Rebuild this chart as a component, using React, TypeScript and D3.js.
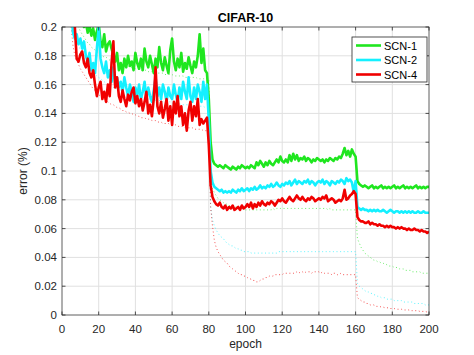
import React from "react";
import * as d3 from "d3";

const epochs: number[] = Array.from({ length: 200 }, (_, i) => i + 1);

const scn1Test: number[] = [
  0.36, 0.32, 0.29, 0.27, 0.255, 0.24, 0.228, 0.218, 0.212, 0.207,
  0.204, 0.2, 0.203, 0.196, 0.201, 0.194, 0.199, 0.191, 0.197, 0.202,
  0.19, 0.186, 0.195, 0.183, 0.188, 0.19, 0.185, 0.18, 0.176, 0.182,
  0.17, 0.175, 0.168, 0.178, 0.172, 0.18, 0.173, 0.176, 0.17, 0.182,
  0.175, 0.171, 0.178, 0.17, 0.185, 0.176, 0.172, 0.18, 0.174, 0.168,
  0.178, 0.172, 0.186, 0.175, 0.17, 0.179, 0.173, 0.168, 0.184, 0.192,
  0.176, 0.17, 0.178, 0.172, 0.182, 0.169, 0.175, 0.171, 0.179, 0.173,
  0.168, 0.176, 0.172, 0.18, 0.195, 0.175, 0.185, 0.17, 0.168, 0.15,
  0.12, 0.108, 0.105, 0.104, 0.103, 0.104, 0.103, 0.102, 0.104, 0.103,
  0.102, 0.101, 0.103, 0.102, 0.101, 0.103, 0.102, 0.104, 0.103, 0.102,
  0.103, 0.102, 0.104, 0.103, 0.102, 0.106, 0.104, 0.107, 0.105, 0.103,
  0.106, 0.104, 0.107, 0.105, 0.104, 0.106, 0.108, 0.106, 0.11, 0.107,
  0.106, 0.108, 0.106, 0.111, 0.107, 0.112, 0.108, 0.111, 0.107, 0.109,
  0.108, 0.11, 0.107, 0.109, 0.108, 0.106, 0.108, 0.107, 0.109, 0.108,
  0.107, 0.108, 0.106, 0.108, 0.107, 0.109, 0.108, 0.107, 0.109, 0.108,
  0.11, 0.109, 0.112, 0.116, 0.111, 0.114, 0.11, 0.115, 0.112, 0.11,
  0.093, 0.091, 0.09, 0.089, 0.09, 0.089, 0.088, 0.089, 0.09, 0.088,
  0.089, 0.088, 0.089, 0.09, 0.088, 0.089, 0.088, 0.089, 0.088, 0.089,
  0.09, 0.088, 0.089, 0.088, 0.089, 0.09, 0.088, 0.089, 0.088, 0.089,
  0.088, 0.089, 0.09, 0.088, 0.089, 0.088, 0.089, 0.088, 0.089, 0.089,
];

const scn2Test: number[] = [
  0.34, 0.29, 0.26, 0.235, 0.212, 0.196, 0.192, 0.195, 0.188, 0.192,
  0.185, 0.19, 0.18, 0.176, 0.182, 0.17, 0.175, 0.168, 0.185, 0.2,
  0.178, 0.172, 0.168, 0.176, 0.165, 0.17, 0.162, 0.172, 0.16, 0.165,
  0.158, 0.162, 0.155, 0.165, 0.158, 0.152, 0.16, 0.155, 0.148, 0.158,
  0.152, 0.16, 0.15, 0.155, 0.162, 0.15, 0.158, 0.152, 0.148, 0.156,
  0.165, 0.152, 0.158, 0.15, 0.16, 0.155, 0.148, 0.158, 0.152, 0.15,
  0.16, 0.153, 0.148, 0.158, 0.15, 0.162, 0.155, 0.15, 0.165, 0.152,
  0.148, 0.158, 0.15, 0.16, 0.155, 0.148, 0.162, 0.15, 0.16, 0.135,
  0.1, 0.092, 0.089, 0.088, 0.087, 0.086, 0.087, 0.085, 0.086, 0.085,
  0.086, 0.085, 0.087, 0.086, 0.085, 0.087, 0.086, 0.088, 0.086, 0.087,
  0.088, 0.086, 0.088, 0.087, 0.089, 0.087, 0.088, 0.09, 0.088, 0.089,
  0.088, 0.09, 0.089, 0.091, 0.089, 0.09, 0.092, 0.09, 0.089, 0.091,
  0.09, 0.092, 0.091, 0.093, 0.09, 0.092, 0.094, 0.091, 0.093, 0.092,
  0.091, 0.093, 0.092, 0.094, 0.091, 0.093, 0.092, 0.09, 0.092, 0.093,
  0.092, 0.094, 0.091, 0.093, 0.092, 0.09, 0.093, 0.092, 0.091, 0.093,
  0.092, 0.094, 0.093, 0.091, 0.095, 0.093, 0.094, 0.092, 0.085, 0.093,
  0.075, 0.074, 0.073, 0.074, 0.073, 0.073, 0.072, 0.073, 0.072, 0.073,
  0.072, 0.073, 0.072, 0.072, 0.073, 0.072, 0.071, 0.072, 0.073, 0.072,
  0.071, 0.072, 0.072, 0.071, 0.072, 0.071, 0.072, 0.071, 0.072, 0.071,
  0.072, 0.071, 0.071, 0.072, 0.071, 0.071, 0.072, 0.071, 0.071, 0.071,
];

const scn4Test: number[] = [
  0.38, 0.33, 0.29, 0.26, 0.24, 0.222, 0.2, 0.178, 0.176, 0.181,
  0.183, 0.175, 0.172, 0.178, 0.168, 0.165, 0.17, 0.16, 0.152, 0.158,
  0.162, 0.15, 0.155, 0.148, 0.16, 0.152, 0.175, 0.19, 0.158, 0.165,
  0.152, 0.148, 0.156, 0.15, 0.145, 0.153, 0.149, 0.155, 0.158, 0.147,
  0.152, 0.145, 0.15, 0.142, 0.148, 0.155, 0.14, 0.146, 0.138, 0.15,
  0.172, 0.145, 0.14, 0.148, 0.137, 0.143, 0.15, 0.135, 0.145, 0.132,
  0.148, 0.14, 0.152, 0.138, 0.145, 0.132, 0.14, 0.128, 0.142, 0.148,
  0.135, 0.145, 0.138, 0.15, 0.132, 0.136, 0.133, 0.135, 0.137, 0.118,
  0.09, 0.082, 0.079, 0.077, 0.076, 0.078, 0.075, 0.074, 0.076, 0.073,
  0.075, 0.074, 0.076, 0.073, 0.074, 0.075, 0.073, 0.076, 0.074, 0.075,
  0.077, 0.075, 0.078, 0.074, 0.077, 0.075, 0.078, 0.076, 0.079, 0.077,
  0.076, 0.078, 0.077, 0.079, 0.078, 0.076, 0.078, 0.08, 0.079, 0.081,
  0.079, 0.078, 0.08, 0.082, 0.08, 0.079, 0.081, 0.083, 0.081, 0.08,
  0.082, 0.08, 0.079, 0.081, 0.08, 0.082, 0.081, 0.079, 0.08, 0.081,
  0.08, 0.082, 0.081, 0.083, 0.079, 0.08, 0.081, 0.08, 0.078, 0.079,
  0.08, 0.079, 0.081, 0.087, 0.08, 0.081, 0.083, 0.084, 0.086, 0.084,
  0.068, 0.066, 0.065, 0.065, 0.064, 0.064, 0.065, 0.063, 0.064, 0.063,
  0.063, 0.062, 0.063, 0.062, 0.062, 0.061, 0.062, 0.061, 0.062, 0.061,
  0.061, 0.06, 0.061, 0.06, 0.061, 0.06, 0.06, 0.059, 0.06, 0.059,
  0.059, 0.06, 0.059, 0.059, 0.058, 0.059, 0.058, 0.058, 0.057, 0.058,
];

const scn1Train: number[] = [
  0.34, 0.3, 0.27, 0.25, 0.235, 0.222, 0.212, 0.205, 0.2, 0.197,
  0.195, 0.193, 0.191, 0.189, 0.188, 0.186, 0.185, 0.184, 0.183, 0.182,
  0.181, 0.18, 0.179, 0.179, 0.178, 0.177, 0.177, 0.176, 0.176, 0.175,
  0.175, 0.174, 0.174, 0.173, 0.173, 0.173, 0.172, 0.172, 0.172, 0.171,
  0.171, 0.171, 0.17, 0.17, 0.17, 0.17, 0.169, 0.169, 0.169, 0.169,
  0.168, 0.168, 0.168, 0.168, 0.168, 0.167, 0.167, 0.167, 0.167, 0.167,
  0.166, 0.166, 0.166, 0.166, 0.166, 0.166, 0.165, 0.165, 0.165, 0.165,
  0.165, 0.165, 0.165, 0.164, 0.164, 0.164, 0.164, 0.164, 0.164, 0.164,
  0.092, 0.088, 0.085, 0.083, 0.081, 0.08, 0.079, 0.078, 0.077, 0.077,
  0.076, 0.076, 0.075, 0.075, 0.075, 0.074, 0.074, 0.074, 0.074, 0.073,
  0.073, 0.073, 0.073, 0.073, 0.073, 0.073, 0.073, 0.073, 0.073, 0.073,
  0.073, 0.073, 0.073, 0.073, 0.074, 0.073, 0.074, 0.074, 0.074, 0.074,
  0.074, 0.074, 0.074, 0.074, 0.074, 0.074, 0.074, 0.074, 0.074, 0.074,
  0.074, 0.074, 0.074, 0.074, 0.074, 0.074, 0.074, 0.074, 0.074, 0.074,
  0.074, 0.074, 0.074, 0.074, 0.073, 0.074, 0.073, 0.073, 0.073, 0.073,
  0.073, 0.073, 0.073, 0.073, 0.073, 0.073, 0.073, 0.073, 0.073, 0.073,
  0.053, 0.05, 0.047, 0.045, 0.043, 0.042, 0.041, 0.04, 0.039, 0.038,
  0.038, 0.037, 0.037, 0.036, 0.036, 0.035, 0.035, 0.034, 0.034, 0.034,
  0.033, 0.033, 0.033, 0.032, 0.032, 0.032, 0.031, 0.031, 0.031, 0.031,
  0.03, 0.03, 0.03, 0.03, 0.03, 0.029, 0.029, 0.029, 0.029, 0.029,
];

const scn2Train: number[] = [
  0.33, 0.29, 0.26, 0.24, 0.222, 0.21, 0.2, 0.193, 0.188, 0.184,
  0.18, 0.178, 0.176, 0.174, 0.172, 0.17, 0.169, 0.167, 0.166, 0.165,
  0.164, 0.163, 0.162, 0.161, 0.16, 0.16, 0.159, 0.158, 0.158, 0.157,
  0.157, 0.156, 0.156, 0.155, 0.155, 0.154, 0.154, 0.153, 0.153, 0.153,
  0.152, 0.152, 0.152, 0.151, 0.151, 0.151, 0.15, 0.15, 0.15, 0.15,
  0.149, 0.149, 0.149, 0.149, 0.148, 0.148, 0.148, 0.148, 0.148, 0.147,
  0.147, 0.147, 0.147, 0.147, 0.146, 0.146, 0.146, 0.146, 0.146, 0.146,
  0.145, 0.145, 0.145, 0.145, 0.145, 0.145, 0.145, 0.144, 0.144, 0.144,
  0.075, 0.066, 0.062, 0.059, 0.057, 0.055, 0.054, 0.053, 0.051, 0.05,
  0.049, 0.048, 0.048, 0.047, 0.046, 0.046, 0.045, 0.045, 0.044, 0.044,
  0.044, 0.044, 0.043, 0.043, 0.043, 0.043, 0.043, 0.043, 0.043, 0.043,
  0.043, 0.043, 0.043, 0.043, 0.043, 0.043, 0.043, 0.044, 0.044, 0.044,
  0.044, 0.044, 0.044, 0.044, 0.044, 0.044, 0.044, 0.044, 0.044, 0.044,
  0.044, 0.044, 0.044, 0.044, 0.044, 0.044, 0.044, 0.044, 0.044, 0.044,
  0.044, 0.044, 0.044, 0.044, 0.044, 0.044, 0.044, 0.044, 0.044, 0.044,
  0.044, 0.044, 0.044, 0.044, 0.044, 0.044, 0.044, 0.044, 0.044, 0.044,
  0.022, 0.02, 0.019, 0.018, 0.017, 0.016, 0.016, 0.015, 0.015, 0.014,
  0.014, 0.013, 0.013, 0.012, 0.012, 0.012, 0.011, 0.011, 0.011, 0.011,
  0.01, 0.01, 0.01, 0.01, 0.01, 0.009, 0.009, 0.009, 0.009, 0.009,
  0.009, 0.008, 0.008, 0.008, 0.008, 0.008, 0.008, 0.007, 0.007, 0.007,
];

const scn4Train: number[] = [
  0.32, 0.28, 0.25, 0.225, 0.2, 0.187, 0.18, 0.177, 0.174, 0.171,
  0.169, 0.167, 0.165, 0.163, 0.161, 0.159, 0.157, 0.156, 0.154, 0.153,
  0.152, 0.151, 0.15, 0.149, 0.148, 0.147, 0.146, 0.146, 0.145, 0.144,
  0.144, 0.143, 0.142, 0.142, 0.141, 0.141, 0.14, 0.14, 0.139, 0.139,
  0.138, 0.138, 0.137, 0.137, 0.137, 0.136, 0.136, 0.136, 0.135, 0.135,
  0.135, 0.134, 0.134, 0.134, 0.133, 0.133, 0.133, 0.133, 0.132, 0.132,
  0.132, 0.132, 0.131, 0.131, 0.131, 0.131, 0.13, 0.13, 0.13, 0.13,
  0.13, 0.129, 0.129, 0.129, 0.129, 0.129, 0.128, 0.128, 0.128, 0.128,
  0.075, 0.062, 0.052, 0.047, 0.044, 0.042, 0.04, 0.038, 0.037, 0.036,
  0.034, 0.033, 0.032, 0.031, 0.03, 0.029, 0.028, 0.028, 0.027, 0.027,
  0.026, 0.025, 0.025, 0.024, 0.024, 0.023, 0.023, 0.024, 0.025, 0.025,
  0.026, 0.026, 0.027, 0.027, 0.027, 0.028, 0.028, 0.028, 0.028, 0.028,
  0.029, 0.029, 0.029, 0.029, 0.029, 0.029, 0.029, 0.03, 0.029, 0.03,
  0.03, 0.029, 0.03, 0.03, 0.03, 0.029, 0.03, 0.03, 0.03, 0.03,
  0.029, 0.03, 0.029, 0.029, 0.029, 0.029, 0.028, 0.029, 0.029, 0.028,
  0.028, 0.029, 0.028, 0.028, 0.028, 0.028, 0.028, 0.028, 0.028, 0.028,
  0.012, 0.011, 0.01, 0.009, 0.009, 0.008, 0.008, 0.007, 0.007, 0.007,
  0.006, 0.006, 0.006, 0.0055, 0.0055, 0.005, 0.005, 0.005, 0.0045, 0.0045,
  0.0045, 0.004, 0.004, 0.004, 0.004, 0.0035, 0.0035, 0.0035, 0.0035, 0.003,
  0.003, 0.003, 0.003, 0.003, 0.0025, 0.0025, 0.0025, 0.0025, 0.002, 0.002,
];

const xTicks: number[] = [0, 20, 40, 60, 80, 100, 120, 140, 160, 180, 200];
const yTicks: number[] = [0, 0.02, 0.04, 0.06, 0.08, 0.1, 0.12, 0.14, 0.16, 0.18, 0.2];
const yTickLabels: string[] = ["0", "0.02", "0.04", "0.06", "0.08", "0.1", "0.12", "0.14", "0.16", "0.18", "0.2"];
const legendNames: string[] = ["SCN-1", "SCN-2", "SCN-4"];
const seriesColors: string[] = ["#1fe61f", "#14f0ff", "#f00000"];

const W = 474;
const H = 355;
const M = { left: 62, right: 429, top: 27, bottom: 315 };
const FONT = "'Liberation Sans', Arial, Helvetica, sans-serif";

export default function App() {
  const x = d3.scaleLinear().domain([0, 200]).range([M.left, M.right]);
  const y = d3.scaleLinear().domain([0, 0.2]).range([M.bottom, M.top]);
  const line = d3
    .line<number>()
    .x((_, i) => x(epochs[i]))
    .y((d) => y(d));

  const tests = [scn1Test, scn2Test, scn4Test];
  const trains = [scn1Train, scn2Train, scn4Train];
  const axisColor = "#262626";
  const tickLen = 3.5;

  return (
    <svg
      width={W}
      height={H}
      style={{ position: "absolute", left: 0, top: 0, background: "#fff" }}
      fontFamily={FONT}
    >
      <defs>
        <clipPath id="plotclip">
          <rect x={M.left} y={M.top} width={M.right - M.left} height={M.bottom - M.top} />
        </clipPath>
      </defs>
      <rect x={0} y={0} width={W} height={H} fill="#fff" />
      {xTicks.map((t) => (
        <line key={"gx" + t} x1={x(t)} x2={x(t)} y1={M.top} y2={M.bottom} stroke="#e0e0e0" strokeWidth={1} />
      ))}
      {yTicks.map((t) => (
        <line key={"gy" + t} x1={M.left} x2={M.right} y1={y(t)} y2={y(t)} stroke="#e0e0e0" strokeWidth={1} />
      ))}
      <g clipPath="url(#plotclip)">
        {trains.map((s, i) => (
          <path
            key={"tr" + i}
            d={line(s) || ""}
            fill="none"
            stroke={seriesColors[i]}
            strokeWidth={0.9}
            strokeDasharray="1 2.6"
            opacity={0.75}
          />
        ))}
        {tests.map((s, i) => (
          <path
            key={"te" + i}
            d={line(s) || ""}
            fill="none"
            stroke={seriesColors[i]}
            strokeWidth={2.6}
            strokeLinejoin="round"
          />
        ))}
      </g>
      <rect
        x={M.left}
        y={M.top}
        width={M.right - M.left}
        height={M.bottom - M.top}
        fill="none"
        stroke={axisColor}
        strokeWidth={0.8}
        opacity={0.8}
      />
      {xTicks.map((t) => (
        <g key={"tx" + t}>
          <line x1={x(t)} x2={x(t)} y1={M.bottom} y2={M.bottom - tickLen} stroke={axisColor} strokeWidth={0.8} />
          <line x1={x(t)} x2={x(t)} y1={M.top} y2={M.top + tickLen} stroke={axisColor} strokeWidth={0.8} />
          <text x={x(t)} y={333} textAnchor="middle" fontSize={11.5} fill={axisColor}>
            {t}
          </text>
        </g>
      ))}
      {yTicks.map((t, i) => (
        <g key={"ty" + t}>
          <line x1={M.left} x2={M.left + tickLen} y1={y(t)} y2={y(t)} stroke={axisColor} strokeWidth={0.8} />
          <line x1={M.right} x2={M.right - tickLen} y1={y(t)} y2={y(t)} stroke={axisColor} strokeWidth={0.8} />
          <text x={57} y={y(t) + 4} textAnchor="end" fontSize={11.5} fill={axisColor}>
            {yTickLabels[i]}
          </text>
        </g>
      ))}
      <text x={(M.left + M.right) / 2} y={22} textAnchor="middle" fontSize={12.5} fontWeight="bold" fill="#000">
        CIFAR-10
      </text>
      <text x={(M.left + M.right) / 2} y={348} textAnchor="middle" fontSize={12} fill={axisColor}>
        epoch
      </text>
      <text
        transform={`translate(27, ${(M.top + M.bottom) / 2}) rotate(-90)`}
        textAnchor="middle"
        fontSize={12}
        fill={axisColor}
      >
        error (%)
      </text>
      <rect x={352} y={37} width={75} height={45} fill="#fff" stroke={axisColor} strokeWidth={0.8} />
      {legendNames.map((n, i) => (
        <g key={n}>
          <line x1={356} x2={381} y1={45.5 + i * 14.5} y2={45.5 + i * 14.5} stroke={seriesColors[i]} strokeWidth={2.6} />
          <text x={384} y={49.5 + i * 14.5} fontSize={11} fill="#000">
            {n}
          </text>
        </g>
      ))}
    </svg>
  );
}
